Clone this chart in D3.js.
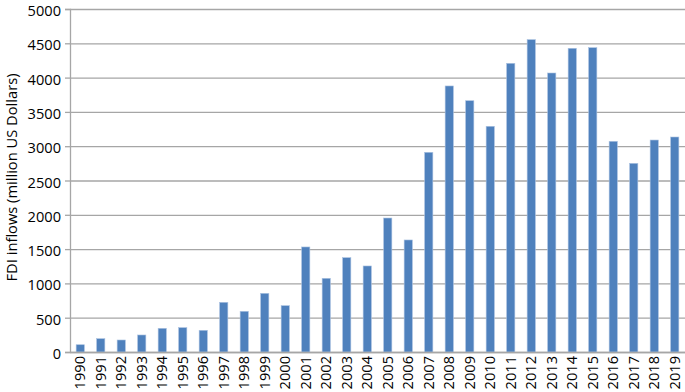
<!DOCTYPE html>
<html>
<head>
<meta charset="utf-8">
<script src="https://cdn.jsdelivr.net/npm/d3@7/dist/d3.min.js"></script>
<style>
  html, body { margin: 0; padding: 0; background: #fff; }
  svg { display: block; }
  text { font-family: "Open Sans", "Noto Sans", sans-serif; fill: #000; }
</style>
</head>
<body>
<svg id="chart" width="685" height="392"></svg>
<script>
const years = ["1990","1991","1992","1993","1994","1995","1996","1997","1998","1999",
               "2000","2001","2002","2003","2004","2005","2006","2007","2008","2009",
               "2010","2011","2012","2013","2014","2015","2016","2017","2018","2019"];
const fdiInflows = [106, 194, 175, 248, 345, 355, 316, 724, 593, 855,
                    675, 1531, 1074, 1375, 1254, 1953, 1633, 2911, 3878, 3663,
                    3290, 4208, 4553, 4067, 4427, 4436, 3071, 2750, 3090, 3134];
const yTicks = [0, 500, 1000, 1500, 2000, 2500, 3000, 3500, 4000, 4500, 5000];
const yTitle = "FDI inflows (million US Dollars)";

const svg = d3.select("#chart");
const mLeft = 70, mRight = 685, mTop = 9, mBottom = 352;

const x = d3.scaleBand().domain(years).range([mLeft, mRight]).paddingInner(0.6).paddingOuter(0.3);
const y = d3.scaleLinear().domain([0, 5000]).range([mBottom, mTop]);

const grid = "#a6a6a6";
const tickFont = "14.6px";

// gridlines + y axis
const yAxis = d3.axisLeft(y).tickValues(yTicks).tickFormat(d3.format("d")).tickSize(5).tickPadding(4);
const gY = svg.append("g").attr("transform", `translate(${mLeft},0)`).call(yAxis);
gY.select(".domain").attr("stroke", grid).attr("stroke-width", 1.3);
gY.selectAll(".tick line").attr("stroke", grid).attr("stroke-width", 1.3);
gY.selectAll(".tick text").attr("font-size", tickFont).attr("font-family", "Open Sans")
  .attr("fill", "#000").attr("dy", "0.45em");
gY.selectAll(".tick").append("line")
  .attr("x1", 0).attr("x2", mRight - mLeft)
  .attr("stroke", grid).attr("stroke-width", 1.3);

// bars
svg.append("g").selectAll("rect").data(years).join("rect")
  .attr("x", d => x(d))
  .attr("width", x.bandwidth())
  .attr("y", (d, i) => y(fdiInflows[i]))
  .attr("height", (d, i) => y(0) - y(fdiInflows[i]))
  .attr("fill", "#4f81bd")
  .attr("stroke", "#a9c1e0")
  .attr("stroke-width", 0.6);

// x axis
const xAxis = d3.axisBottom(x).tickSize(0).tickPadding(0);
const gX = svg.append("g").attr("transform", `translate(0,${mBottom})`).call(xAxis);
gX.select(".domain").attr("stroke", grid).attr("stroke-width", 1.3);
gX.selectAll(".tick text")
  .attr("font-size", tickFont).attr("font-family", "Open Sans").attr("fill", "#000")
  .attr("text-anchor", "end")
  .attr("transform", "rotate(-90)")
  .attr("x", -4).attr("y", 0).attr("dy", "0.35em");

// y title
svg.append("text")
  .attr("transform", `translate(12,${(mTop + mBottom) / 2 - 3}) rotate(-90)`)
  .attr("text-anchor", "middle")
  .attr("dy", "0.35em")
  .attr("font-size", "14.7px")
  .text(yTitle);
</script>
</body>
</html>
